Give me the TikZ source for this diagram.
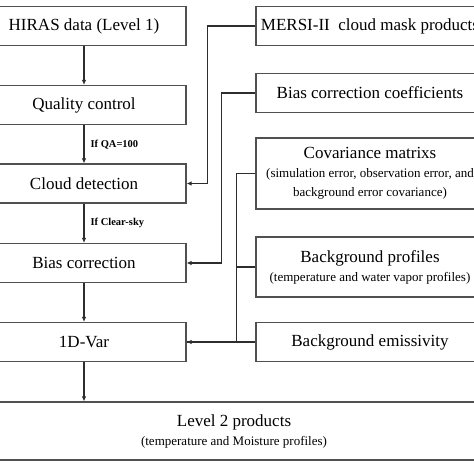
\documentclass[tikz,border=0pt]{standalone}
\usepackage{fontspec}
\setmainfont{Liberation Serif}
\usetikzlibrary{arrows.meta, positioning}
\definecolor{linecolor}{RGB}{45, 45, 45}
\definecolor{boxcolor}{RGB}{80, 80, 80}
\newcommand{\subtext}{\fontsize{13}{15}\selectfont}

\begin{document}
\begin{tikzpicture}[x=1pt, y=-1pt, >={Latex[length=5pt, width=4.5pt]},
    stepbox/.style={draw=boxcolor, line width=1.1pt, minimum width=204pt, minimum height=39pt,
      inner sep=0pt, font=\fontsize{17}{19}\selectfont},
    srcbox/.style={stepbox, minimum width=228pt, align=center},
    link/.style={draw=linecolor, line width=1.1pt},
    cond/.style={font=\fontsize{10.5}{12}\selectfont\bfseries, inner sep=1pt, xshift=5pt}]

  \useasboundingbox (0,0) rectangle (474,474);
  \clip (0,0) rectangle (474,474);

  % Processing chain
  \node[stepbox] (hiras) at (84,26) {HIRAS data (Level 1)};
  \node[stepbox] (qc) at (84,105) {Quality control};
  \node[stepbox] (cloud) at (84,183.5) {Cloud detection};
  \node[stepbox] (bias) at (84,263) {Bias correction};
  \node[stepbox] (var) at (84,342) {1D-Var};
  \node[stepbox, minimum width=504pt, minimum height=58pt, align=center] (level) at (234,431)
    {Level 2 products\\ {\subtext (temperature and Moisture profiles)}};

  % Auxiliary inputs
  \node[srcbox] (mersi) at (370,26) {MERSI-II\ \ cloud mask products};
  \node[srcbox] (coef) at (370,93) {Bias correction coefficients};
  \node[srcbox, minimum height=71pt] (cov) at (370,173.5)
    {Covariance matrixs\\ {\subtext (simulation error, observation error, and}\\
     {\subtext background error covariance)}};
  \node[srcbox, minimum height=60pt] (prof) at (370,267)
    {Background profiles\\ {\subtext (temperature and water vapor profiles)}};
  \node[srcbox] (emis) at (370,342) {Background emissivity};

  % Main flow
  \draw[link, ->] (hiras) -- (qc);
  \draw[link, ->] (qc) -- node[cond, right] {If QA=100} (cloud);
  \draw[link, ->] (cloud) -- node[cond, right] {If Clear-sky} (bias);
  \draw[link, ->] (bias) -- (var);
  \draw[link, ->] (var.south) -- (var.south |- level.north);

  % Inputs into the chain
  \draw[link, ->] (mersi.west) -- ++(-48,0) |- (cloud.east);
  \draw[link, ->] (coef.west) -- ++(-34,0) |- (bias.east);
  \draw[link, ->] (cov.west) -- ++(-19,0) |- (var.east);
  \draw[link] (prof.west) -- ++(-19,0);
  \draw[link] (emis.west) -- (var.east);

\end{tikzpicture}
\end{document}
